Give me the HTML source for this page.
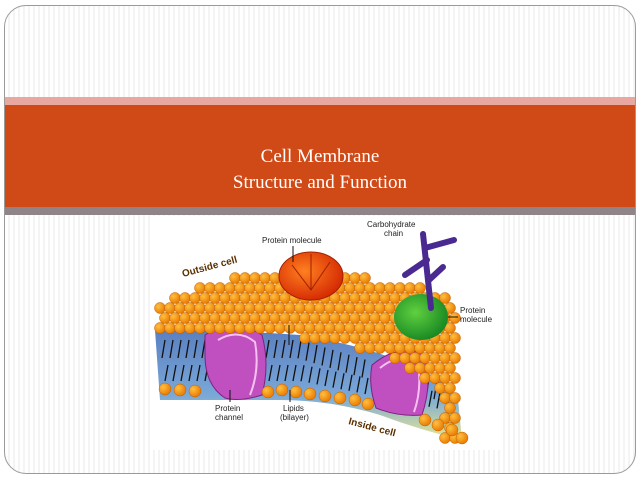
<!DOCTYPE html>
<html><head><meta charset="utf-8"><style>
html,body{margin:0;padding:0;background:#fff;}
body{width:640px;height:480px;position:relative;overflow:hidden;font-family:"Liberation Serif",serif;}
.frame{position:absolute;left:4px;top:5px;width:630px;height:467px;border:1.5px solid #9a9a9a;border-radius:22px;background:repeating-linear-gradient(90deg,#fff 0 3px,#f4f4f4 3px 5px);}
.pink{position:absolute;left:5px;top:97px;width:630px;height:8px;background:#e8a8a0;}
.orange{position:absolute;left:5px;top:105px;width:630px;height:102px;background:#d04a18;}
.gray{position:absolute;left:5px;top:207px;width:630px;height:8px;background:#8f8487;}
.title{position:absolute;left:0;width:640px;top:144px;text-align:center;color:#fff;font-size:19px;line-height:26px;}
svg{position:absolute;left:0;top:0;}
</style></head><body>
<div class="frame"></div>
<div class="pink"></div><div class="orange"></div><div class="gray"></div>
<div class="title">Cell Membrane<br>Structure and Function</div>
<svg width="640" height="480" id="s">
<defs>
<linearGradient id="bl" x1="0" y1="0" x2="0" y2="1"><stop offset="0" stop-color="#5a7fc0"/><stop offset="0.6" stop-color="#7aa8d8"/><stop offset="1" stop-color="#e8e890"/></linearGradient>
<radialGradient id="ob" cx="0.35" cy="0.35" r="0.7"><stop offset="0" stop-color="#ffc040"/><stop offset="1" stop-color="#e87800"/></radialGradient>
<radialGradient id="gr" cx="0.4" cy="0.4" r="0.7"><stop offset="0" stop-color="#60d040"/><stop offset="1" stop-color="#108020"/></radialGradient>
<radialGradient id="rd" cx="0.4" cy="0.4" r="0.7"><stop offset="0" stop-color="#ff8020"/><stop offset="1" stop-color="#d02000"/></radialGradient>
</defs>
<rect x="150" y="216" width="350" height="234" fill="#fff"/>
<path d="M155,330 Q230,330 300,335 Q390,350 440,380 L458,400 L462,440 Q420,430 380,415 Q330,400 280,400 L160,400 Z" fill="url(#bl)"/>
<g id="lines" stroke="#111" stroke-width="1.3"></g>
<path d="M205,335 Q235,318 262,335 Q270,365 262,395 Q240,402 225,398 Q205,385 205,355Z" fill="#c050c0" stroke="#802080"/>
<path d="M218,340 Q238,328 255,342 Q260,370 250,395" stroke="#f8c0f0" fill="none" stroke-width="2"/>
<path d="M372,365 Q400,342 426,355 Q432,385 422,415 Q398,417 376,408 Q368,385 372,365Z" fill="#c050c0" stroke="#802080"/>
<path d="M380,368 Q400,352 418,362 Q422,390 414,412" stroke="#f8c0f0" fill="none" stroke-width="2"/>
<g id="heads"></g>
<ellipse cx="311" cy="276" rx="32" ry="24" fill="url(#rd)" stroke="#a02000"/>
<path d="M292,265 L311,290 L330,262 M311,290 L311,254" stroke="#a02000" fill="none"/>
<ellipse cx="421" cy="317" rx="27" ry="23" fill="url(#gr)"/>
<path d="M423,234 L431,308 M427,260 L405,275 M429,280 L443,267 M425,248 L454,240" stroke="#4a2a90" stroke-width="6" stroke-linecap="round"/>
<g font-family="Liberation Sans,sans-serif" font-size="8" fill="#222">
<text x="262" y="243">Protein molecule</text>
<text x="367" y="227">Carbohydrate</text><text x="384" y="236">chain</text>
<text x="460" y="313">Protein</text><text x="460" y="322">molecule</text>
<text x="215" y="411">Protein</text><text x="215" y="420">channel</text>
<text x="283" y="411">Lipids</text><text x="280" y="420">(bilayer)</text>
<text x="183" y="277" font-weight="bold" font-size="10" fill="#5a3000" transform="rotate(-15 183 277)">Outside cell</text>
<text x="348" y="424" font-weight="bold" font-size="10" fill="#5a3000" transform="rotate(15 348 424)">Inside cell</text>
</g>
<path d="M293,246 L293,262 M289,325 L289,345 M290,390 L290,402 M230,390 L230,402 M448,317 L458,317" stroke="#111" stroke-width="1"/>
</svg>
<script>
(function(){
var ns="http://www.w3.org/2000/svg",H=document.getElementById("heads"),L=document.getElementById("lines");
function inPoly(x,y,p){var c=false;for(var i=0,j=p.length-1;i<p.length;j=i++){if(((p[i][1]>y)!=(p[j][1]>y))&&(x<(p[j][0]-p[i][0])*(y-p[i][1])/(p[j][1]-p[i][1])+p[i][0]))c=!c;}return c;}
var poly=[[158,305],[200,285],[260,272],[330,272],[400,282],[440,290],[455,300],[458,320],[458,440],[445,440],[440,400],[420,375],[380,352],[300,338],[210,332],[158,338]];
function circ(x,y,r){var c=document.createElementNS(ns,"circle");c.setAttribute("cx",x);c.setAttribute("cy",y);c.setAttribute("r",r);c.setAttribute("fill","url(#ob)");c.setAttribute("stroke","#c06000");c.setAttribute("stroke-width","0.5");H.appendChild(c);}
var row=0;
for(var y=278;y<445;y+=10){for(var x=155;x<470;x+=10){var xx=x+(row%2?5:0);if(inPoly(xx,y,poly))circ(xx,y,5.5);}row++;}
var bot=[[165,389],[180,390],[195,391],[268,392],[282,390],[296,392],[310,394],[325,396],[340,398],[355,400],[368,404],[425,420],[438,425],[452,430],[462,438]];
bot.forEach(function(p){circ(p[0],p[1],6);});
for(var x=165;x<440;x+=8){if((x>205&&x<262)||(x>372&&x<425))continue;var y0=335+(x>300?(x-300)*0.3:0),y1=385+(x>300?(x-300)*0.2:0);var l=document.createElementNS(ns,"path");l.setAttribute("d","M"+x+","+(y0+5)+" l-3,18 M"+(x+3)+","+(y1-20)+" l-3,16");L.appendChild(l);}
})();
</script>
</body></html>
